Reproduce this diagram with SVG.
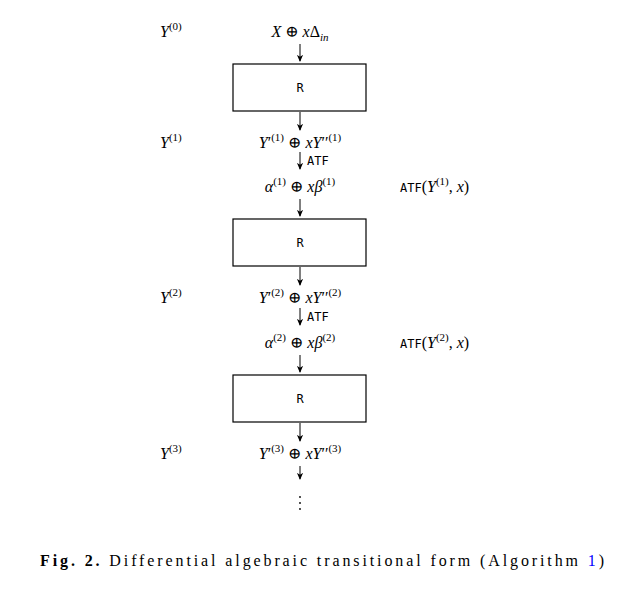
<svg xmlns="http://www.w3.org/2000/svg" width="628" height="605" viewBox="0 0 628 605">
<style>
text{font-family:"Liberation Serif","DejaVu Serif",serif;font-size:16px;fill:#000}
.i{font-style:italic}
.s{font-size:11px;font-style:normal}
.m{font-family:"DejaVu Sans Mono","Liberation Mono",monospace;font-size:12px;font-style:normal}
.box{fill:#fff;stroke:#000;stroke-width:1.2}
.c line{stroke:#000;stroke-width:1}
</style>
<defs><marker id="a" viewBox="0 0 8 8" refX="7" refY="4" markerWidth="7" markerHeight="7" orient="auto" markerUnits="userSpaceOnUse"><path d="M0,0.5 L8,4 L0,7.5 L2,4 Z" fill="#000"/></marker></defs>
<rect width="628" height="605" fill="#fff"/>
<g id="labels-left">
<text x="160" y="37" class="i">Y<tspan class="s" dy="-7">(0)</tspan></text>
<text x="160" y="148" class="i">Y<tspan class="s" dy="-7">(1)</tspan></text>
<text x="160" y="303" class="i">Y<tspan class="s" dy="-7">(2)</tspan></text>
<text x="160" y="459" class="i">Y<tspan class="s" dy="-7">(3)</tspan></text>
</g>
<g id="n0"><text x="300" y="37" text-anchor="middle"><tspan class="i">X</tspan> ⊕ <tspan class="i">x</tspan>Δ<tspan class="i" font-size="11" dy="4">in</tspan></text></g>
<g id="r1"><rect class="box" x="233" y="64" width="133" height="47"/><text x="300" y="92" class="m" text-anchor="middle">R</text></g>
<g id="n1"><text x="300" y="148" text-anchor="middle"><tspan class="i">Y</tspan>′<tspan class="s" dy="-7">(1)</tspan><tspan dy="7"> ⊕ </tspan><tspan class="i">xY</tspan>′′<tspan class="s" dy="-7">(1)</tspan></text></g>
<g id="a1"><text x="300" y="192" text-anchor="middle"><tspan class="i">α</tspan><tspan class="s" dy="-7">(1)</tspan><tspan dy="7"> ⊕ </tspan><tspan class="i">xβ</tspan><tspan class="s" dy="-7">(1)</tspan></text>
<text x="400" y="192"><tspan class="m" font-size="13">ATF</tspan>(<tspan class="i">Y</tspan><tspan class="s" dy="-7">(1)</tspan><tspan dy="7">, </tspan><tspan class="i">x</tspan>)</text></g>
<g id="r2"><rect class="box" x="233" y="219" width="133" height="47"/><text x="300" y="247" class="m" text-anchor="middle">R</text></g>
<g id="n2"><text x="300" y="303" text-anchor="middle"><tspan class="i">Y</tspan>′<tspan class="s" dy="-7">(2)</tspan><tspan dy="7"> ⊕ </tspan><tspan class="i">xY</tspan>′′<tspan class="s" dy="-7">(2)</tspan></text></g>
<g id="a2"><text x="300" y="348" text-anchor="middle"><tspan class="i">α</tspan><tspan class="s" dy="-7">(2)</tspan><tspan dy="7"> ⊕ </tspan><tspan class="i">xβ</tspan><tspan class="s" dy="-7">(2)</tspan></text>
<text x="400" y="348"><tspan class="m" font-size="13">ATF</tspan>(<tspan class="i">Y</tspan><tspan class="s" dy="-7">(2)</tspan><tspan dy="7">, </tspan><tspan class="i">x</tspan>)</text></g>
<g id="r3"><rect class="box" x="233" y="375" width="133" height="47"/><text x="300" y="403" class="m" text-anchor="middle">R</text></g>
<g id="n3"><text x="300" y="459" text-anchor="middle"><tspan class="i">Y</tspan>′<tspan class="s" dy="-7">(3)</tspan><tspan dy="7"> ⊕ </tspan><tspan class="i">xY</tspan>′′<tspan class="s" dy="-7">(3)</tspan></text></g>
<g id="dots"><circle cx="300" cy="497" r="0.9"/><circle cx="300" cy="503" r="0.9"/><circle cx="300" cy="509" r="0.9"/></g>
<g class="c" id="connectors">
<line x1="300" y1="44" x2="300" y2="61" marker-end="url(#a)"/>
<line x1="300" y1="112" x2="300" y2="130" marker-end="url(#a)"/>
<line x1="300" y1="152" x2="300" y2="169" marker-end="url(#a)"/>
<line x1="300" y1="199" x2="300" y2="216" marker-end="url(#a)"/>
<line x1="300" y1="267" x2="300" y2="285" marker-end="url(#a)"/>
<line x1="300" y1="308" x2="300" y2="325" marker-end="url(#a)"/>
<line x1="300" y1="355" x2="300" y2="372" marker-end="url(#a)"/>
<line x1="300" y1="423" x2="300" y2="441" marker-end="url(#a)"/>
<line x1="300" y1="466" x2="300" y2="479" marker-end="url(#a)"/>
</g>
<text x="307" y="165" class="m">ATF</text>
<text x="307" y="321" class="m">ATF</text>
<text x="40" y="566" font-size="19" textLength="564" lengthAdjust="spacing"><tspan font-weight="bold">Fig. 2.</tspan> Differential algebraic transitional form (Algorithm <tspan fill="#00f">1</tspan>)</text>
</svg>
